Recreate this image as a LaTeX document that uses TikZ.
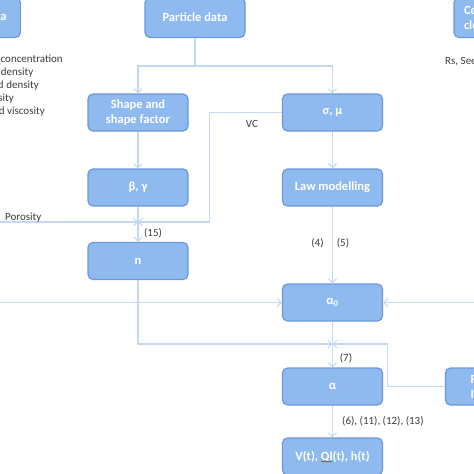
\documentclass[tikz,border=0pt]{standalone}
\usepackage{fontspec}
\setmainfont{Carlito}
\usetikzlibrary{arrows.meta,decorations.pathmorphing}
\definecolor{boxfill}{RGB}{143,186,240}
\definecolor{boxdraw}{RGB}{108,152,218}
\definecolor{conn}{RGB}{196,216,240}
\definecolor{lbl}{RGB}{60,60,60}
\tikzset{
  stepbox/.style={draw=boxdraw, line width=1.2pt, fill=boxfill, rounded corners=5pt,
    minimum width=100pt, minimum height=37pt, inner sep=2pt, text=white,
    font=\fontsize{12.5}{15}\selectfont\bfseries, align=center},
  link/.style={draw=conn, line width=1.1pt},
  arr/.style={link, -{Straight Barb[length=4pt,width=8pt,line width=1pt]}},
  lab/.style={font=\fontsize{11}{13}\selectfont, text=lbl, inner sep=0pt}
}
\begin{document}
\begin{tikzpicture}[x=1pt,y=-1pt]
\useasboundingbox (0,0) rectangle (474,474);
\clip (0,0) rectangle (474,474);
\fill[white] (0,0) rectangle (474,474);
% boxes
\node[stepbox, minimum height=40pt] (susp) at (-30,17.5) {Suspension data\hspace*{12pt}};
\node[stepbox, minimum height=40pt] (part) at (195,17.5) {Particle data};
\node[stepbox, minimum height=40pt, text width=80pt, align=left] (col) at (504,17.5) {Column\\closure};
\node[stepbox] (shape) at (138,112.5) {Shape and\\shape factor};
\node[stepbox] (sigma) at (332.5,112.5) {σ, μ};
\node[stepbox] (beta) at (138,187.5) {β, γ};
\node[stepbox] (law) at (332.5,187.5) {Law modelling};
\node[stepbox] (n) at (138,261) {n};
\node[stepbox] (alpha0) at (332.5,302.5) {α\textsubscript{0}};
\node[stepbox] (alpha) at (332.5,386.5) {α};
\node[stepbox, text width=50pt, align=left] (fill) at (495.5,386.5) {Flow\\Inlet};
\node[stepbox] (vt) at (332.5,456.5) {V(t), Ql(t), h(t)};
\draw[red, line width=0.5pt, decorate, decoration={snake, amplitude=0.6pt, segment length=2.5pt}] (321,461.5) -- (332,461.5);
% junctions and free ends
\coordinate (j1) at (195,66);
\coordinate (jn) at (138,222);
\coordinate (por) at (-5,222);
\coordinate (j2) at (332.5,344);
\coordinate (lin) at (-5,302.5);
\coordinate (rin) at (480,302.5);
% connectors
\draw[link] (part.south) -- (j1);
\draw[arr] (j1) -| (shape.north);
\draw[arr] (j1) -| (sigma.north);
\draw[arr] (shape.south) -- (beta.north);
\draw[arr] (beta.south) -- (n.north);
\draw[arr] (por) -- (jn);
\draw[arr] (sigma.west) -- ++(-72,0) |- (jn);
\draw[arr] (sigma.south) -- (law.north);
\draw[arr] (law.south) -- (alpha0.north);
\draw[arr] (lin) -- (alpha0.west);
\draw[arr] (rin) -- (alpha0.east);
\draw[arr] (n.south) |- (j2);
\draw[arr] (alpha0.south) -- (alpha.north);
\draw[arr] (fill.west) -- ++(-57,0) |- (j2);
\draw[arr] (alpha.south) -- (vt.north);
% labels
\node[lab, anchor=west] at (5,218) {Porosity};
\node[lab] at (252,124) {VC};
\node[lab] at (153,233) {(15)};
\node[lab] at (317.5,243) {(4)};
\node[lab] at (343,243) {(5)};
\node[lab] at (346,358) {(7)};
\node[lab, anchor=west] at (342,421) {(6), (11), (12), (13)};
\node[lab, anchor=west] at (445,62) {Rs, Seepage};
\node[lab, anchor=east] at (63,59) {Solid concentration};
\node[lab, anchor=east] at (33.5,72.5) {Particle density};
\node[lab, anchor=east] at (39,86) {Fluid density};
\node[lab, anchor=east] at (14,99) {Viscosity};
\node[lab, anchor=east] at (45,112) {Fluid viscosity};
\end{tikzpicture}
\end{document}
